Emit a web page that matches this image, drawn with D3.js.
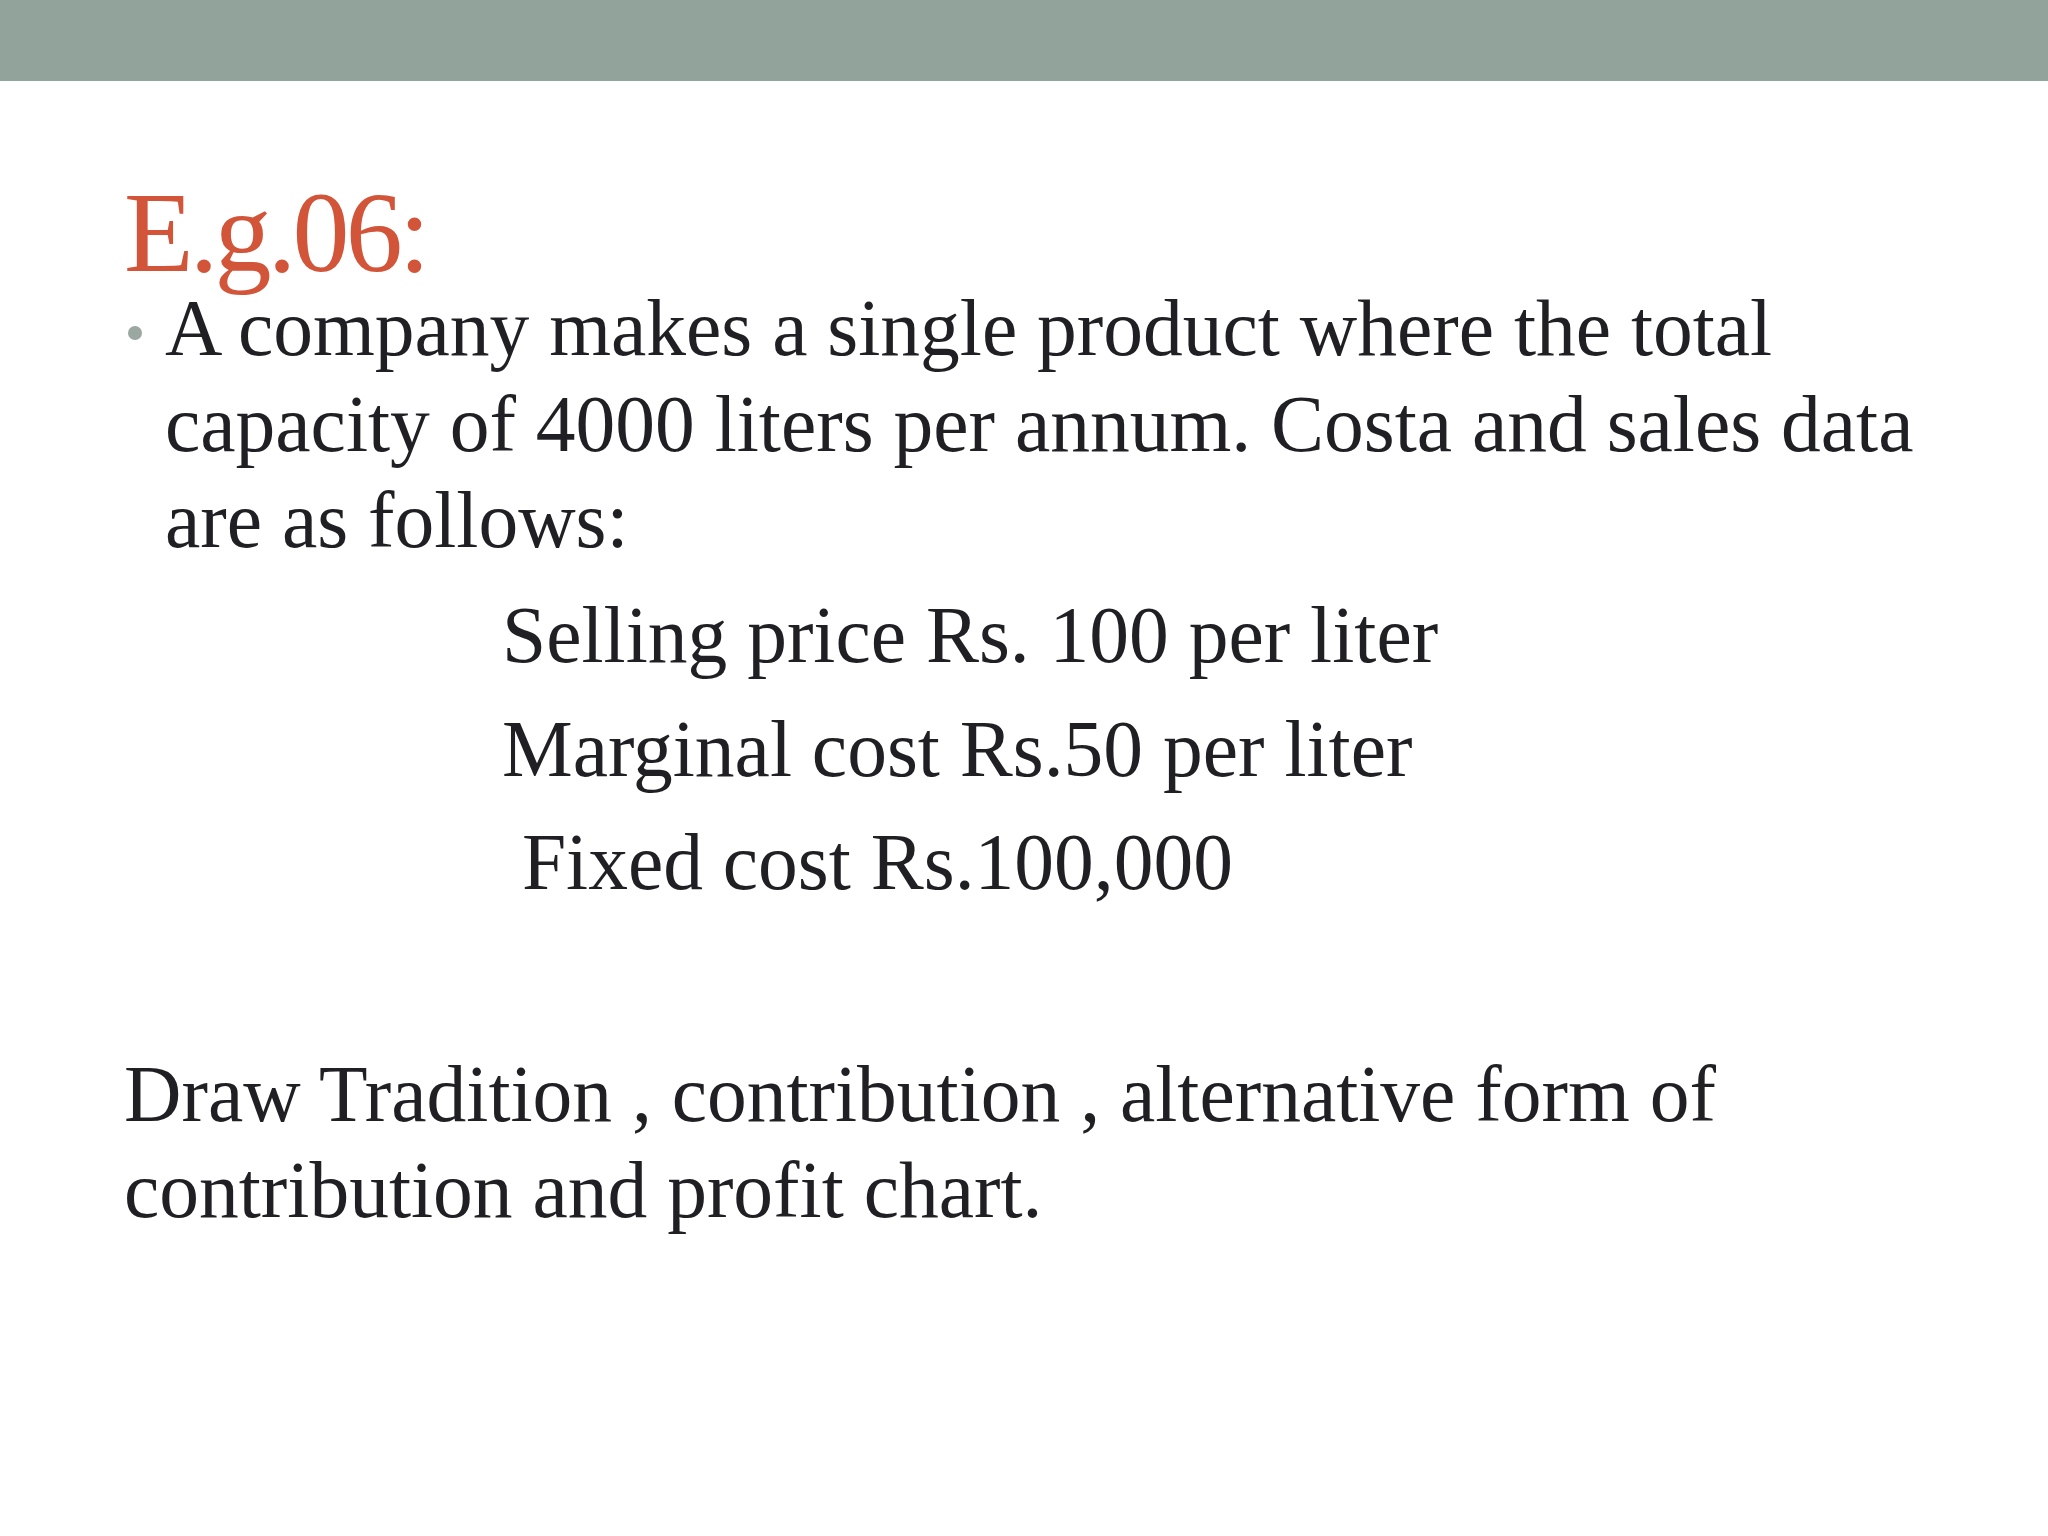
<!DOCTYPE html>
<html>
<head>
<meta charset="utf-8">
<script src="https://cdn.jsdelivr.net/npm/d3@7"></script>
<style>
  body { margin: 0; background: #fff; }
</style>
</head>
<body>
<div class="slide"></div>
<script>
// slide text
const title = "E.g.06:"
const bulletLines = [
  "A company makes a single product where the total",
  "capacity of 4000 liters per annum. Costa and sales data",
  "are as follows:"
]
const dataLines = [
  "Selling price Rs. 100 per liter",
  "Marginal cost Rs.50 per liter",
  "\u00a0Fixed cost Rs.100,000"
]
const taskLines = [
  "Draw Tradition , contribution , alternative form of",
  "contribution and profit chart."
]

const w = 2048
const h = 1536

const svg = d3.select(".slide")
  .append("svg")
  .attr("width", w)
  .attr("height", h)
  .style("display", "block")
  .style("background", "#fff")

// top banner
svg.append("rect")
  .attr("x", 0).attr("y", 0)
  .attr("width", w).attr("height", 81)
  .style("fill", "#92a39b")

const font = "'Liberation Serif', 'Times New Roman', serif"

svg.append("text")
  .attr("x", 124).attr("y", 271)
  .style("font-family", font)
  .style("font-size", "114px")
  .style("letter-spacing", "-3.8px")
  .style("fill", "#d2553a")
  .text(title)

// bullet
svg.append("circle")
  .attr("cx", 135).attr("cy", 333).attr("r", 7)
  .style("fill", "#9aa8a1")

const body = svg.append("g")
  .style("font-family", font)
  .style("font-size", "79.5px")
  .style("fill", "#1f1f24")

body.selectAll("text.b")
  .data(bulletLines)
  .enter()
  .append("text")
  .attr("class", "b")
  .attr("x", 165)
  .attr("y", (d, i) => 355 + i * 96)
  .text(d => d)

body.selectAll("text.d")
  .data(dataLines)
  .enter()
  .append("text")
  .attr("class", "d")
  .attr("x", 502)
  .attr("y", (d, i) => 662 + i * 113.5)
  .style("white-space", "pre")
  .text(d => d)

body.selectAll("text.t")
  .data(taskLines)
  .enter()
  .append("text")
  .attr("class", "t")
  .attr("x", 124)
  .attr("y", (d, i) => 1121 + i * 96)
  .text(d => d)
</script>
</body>
</html>
